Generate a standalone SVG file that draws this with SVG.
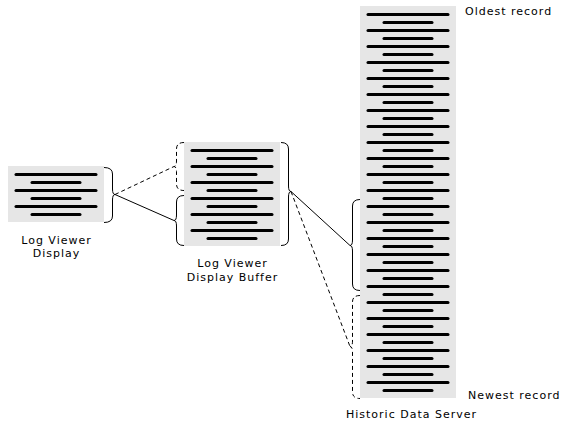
<svg xmlns="http://www.w3.org/2000/svg" xmlns:xlink="http://www.w3.org/1999/xlink" width="565" height="424" viewBox="0 0 565 424">
<style>
.box{fill:#e6e6e6;stroke:none}
.rec{stroke:#000;stroke-width:3;stroke-linecap:round;fill:none}
.br{fill:none;stroke:#000;stroke-width:1}
.dash{stroke-dasharray:4,3}
.lbl{font-family:"DejaVu Sans",Verdana,sans-serif;font-size:11px;letter-spacing:1px;fill:#000}
</style>
<defs>
<g id="pair">
<line class="rec" x1="-40" y1="0" x2="40" y2="0"/>
<line class="rec" x1="-24" y1="8" x2="24" y2="8"/>
</g>
</defs>
<g id="display">
<rect class="box" x="8" y="166" width="96" height="56"/>
<use xlink:href="#pair" x="56" y="174.5"/>
<use xlink:href="#pair" x="56" y="190.5"/>
<use xlink:href="#pair" x="56" y="206.5"/>
<text class="lbl" x="56.5" y="244" text-anchor="middle">Log Viewer</text>
<text class="lbl" x="56.5" y="257" text-anchor="middle">Display</text>
</g>
<g id="buffer">
<rect class="box" x="184" y="142" width="96" height="104"/>
<use xlink:href="#pair" x="232" y="150.5"/>
<use xlink:href="#pair" x="232" y="166.5"/>
<use xlink:href="#pair" x="232" y="182.5"/>
<use xlink:href="#pair" x="232" y="198.5"/>
<use xlink:href="#pair" x="232" y="214.5"/>
<use xlink:href="#pair" x="232" y="230.5"/>
<text class="lbl" x="232.5" y="267" text-anchor="middle">Log Viewer</text>
<text class="lbl" x="232.5" y="281" text-anchor="middle">Display Buffer</text>
</g>
<g id="server">
<rect class="box" x="360" y="6" width="96" height="392"/>
<use xlink:href="#pair" x="408" y="14.5"/>
<use xlink:href="#pair" x="408" y="30.5"/>
<use xlink:href="#pair" x="408" y="46.5"/>
<use xlink:href="#pair" x="408" y="62.5"/>
<use xlink:href="#pair" x="408" y="78.5"/>
<use xlink:href="#pair" x="408" y="94.5"/>
<use xlink:href="#pair" x="408" y="110.5"/>
<use xlink:href="#pair" x="408" y="126.5"/>
<use xlink:href="#pair" x="408" y="142.5"/>
<use xlink:href="#pair" x="408" y="158.5"/>
<use xlink:href="#pair" x="408" y="174.5"/>
<use xlink:href="#pair" x="408" y="190.5"/>
<use xlink:href="#pair" x="408" y="206.5"/>
<use xlink:href="#pair" x="408" y="222.5"/>
<use xlink:href="#pair" x="408" y="238.5"/>
<use xlink:href="#pair" x="408" y="254.5"/>
<use xlink:href="#pair" x="408" y="270.5"/>
<use xlink:href="#pair" x="408" y="286.5"/>
<use xlink:href="#pair" x="408" y="302.5"/>
<use xlink:href="#pair" x="408" y="318.5"/>
<use xlink:href="#pair" x="408" y="334.5"/>
<use xlink:href="#pair" x="408" y="350.5"/>
<use xlink:href="#pair" x="408" y="366.5"/>
<use xlink:href="#pair" x="408" y="382.5"/>
<text class="lbl" x="465" y="15">Oldest record</text>
<text class="lbl" x="468" y="399">Newest record</text>
<text class="lbl" x="346" y="418">Historic Data Server</text>
</g>
<g id="connectors">
<path class="br" d="M104,167.5 Q112.5,167.5 112.5,174 V189 Q112.5,194.5 115,194.5 Q112.5,194.5 112.5,200 V216 Q112.5,222.5 104,222.5"/>
<path class="br dash" d="M184,142.5 Q176.5,142.5 176.5,149 V161 Q176.5,166.5 174,166.5 Q176.5,166.5 176.5,172 V184 Q176.5,190.5 184,190.5"/>
<path class="br" d="M184,195.5 Q176.5,195.5 176.5,202 V215 Q176.5,220.5 174,220.5 Q176.5,220.5 176.5,226 V239 Q176.5,245.5 184,245.5"/>
<path class="br" d="M281,142.5 Q288.5,142.5 288.5,149 V186 Q288.5,191.5 291,191.5 Q288.5,191.5 288.5,197 V239 Q288.5,245.5 281,245.5"/>
<path class="br" d="M360,199.5 Q352.5,199.5 352.5,206 V240 Q352.5,245.5 350,245.5 Q352.5,245.5 352.5,251 V284 Q352.5,290.5 360,290.5"/>
<path class="br dash" d="M360,295.5 Q352.5,295.5 352.5,302 V341 Q352.5,346.5 350,346.5 Q352.5,346.5 352.5,352 V392 Q352.5,398.5 360,398.5"/>
<line class="br dash" x1="115" y1="194.5" x2="174" y2="166.5"/>
<line class="br" x1="115" y1="194.5" x2="174" y2="220.5"/>
<line class="br" x1="291" y1="191.5" x2="350" y2="245.5"/>
<line class="br dash" x1="291" y1="191.5" x2="350" y2="346.5"/>
</g>
</svg>
